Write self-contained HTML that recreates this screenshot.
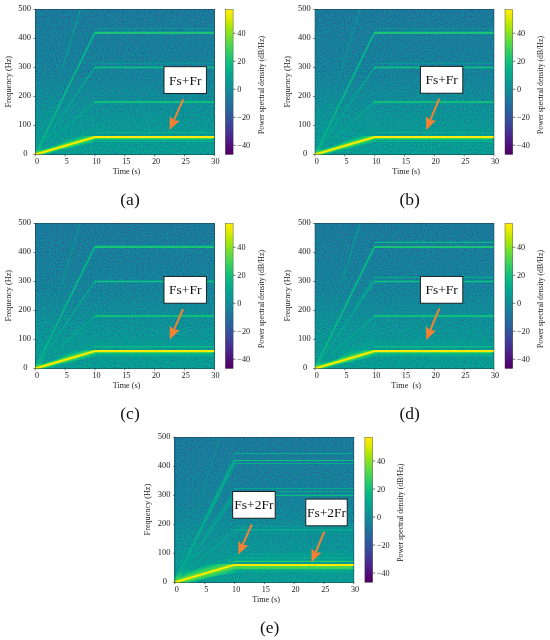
<!DOCTYPE html>
<html><head><meta charset="utf-8"><title>Spectrograms</title>
<style>
html,body{margin:0;padding:0;background:#fff;}
svg{display:block;font-family:"Liberation Serif",serif;}
</style></head><body>
<svg width="550" height="640" viewBox="0 0 550 640">
<defs>
<linearGradient id="cb" x1="0" y1="1" x2="0" y2="0">
<stop offset="0.000" stop-color="rgb(79,0,100)"/>
<stop offset="0.050" stop-color="rgb(80,11,118)"/>
<stop offset="0.100" stop-color="rgb(77,30,135)"/>
<stop offset="0.150" stop-color="rgb(71,48,147)"/>
<stop offset="0.200" stop-color="rgb(62,66,153)"/>
<stop offset="0.250" stop-color="rgb(52,82,156)"/>
<stop offset="0.300" stop-color="rgb(42,97,157)"/>
<stop offset="0.350" stop-color="rgb(33,112,157)"/>
<stop offset="0.400" stop-color="rgb(24,126,155)"/>
<stop offset="0.450" stop-color="rgb(17,141,153)"/>
<stop offset="0.500" stop-color="rgb(9,155,149)"/>
<stop offset="0.550" stop-color="rgb(5,168,144)"/>
<stop offset="0.600" stop-color="rgb(7,181,134)"/>
<stop offset="0.650" stop-color="rgb(21,194,121)"/>
<stop offset="0.700" stop-color="rgb(45,205,102)"/>
<stop offset="0.750" stop-color="rgb(75,214,80)"/>
<stop offset="0.800" stop-color="rgb(108,222,55)"/>
<stop offset="0.850" stop-color="rgb(147,228,24)"/>
<stop offset="0.900" stop-color="rgb(188,232,0)"/>
<stop offset="0.950" stop-color="rgb(230,235,0)"/>
<stop offset="1.000" stop-color="rgb(255,236,0)"/>
</linearGradient>
<linearGradient id="bias" x1="0" y1="0" x2="0" y2="1"><stop offset="0" stop-color="#000000"/><stop offset="0.45" stop-color="#000800"/><stop offset="0.75" stop-color="#001800"/><stop offset="1" stop-color="#002000"/></linearGradient>
<filter id="b1" x="-5%" y="-5%" width="110%" height="110%"><feGaussianBlur stdDeviation="0.9"/></filter>
<filter id="b3" x="-10%" y="-30%" width="120%" height="160%"><feGaussianBlur stdDeviation="5"/></filter>
<filter id="b2" x="-5%" y="-5%" width="110%" height="110%"><feGaussianBlur stdDeviation="2.2"/></filter>
<filter id="va" filterUnits="userSpaceOnUse" x="0" y="0" width="179" height="145" color-interpolation-filters="sRGB">
<feTurbulence type="fractalNoise" baseFrequency="0.85 0.6" numOctaves="1" seed="3" result="t"/>
<feColorMatrix in="t" type="matrix" values="1 0 0 0 0  1 0 0 0 0  1 0 0 0 0  0 0 0 0 1" result="tg"/>
<feComponentTransfer in="tg" result="n"><feFuncR type="table" tableValues="0.217 0.217 0.217 0.217 0.227 0.267 0.307 0.325 0.347 0.367 0.387 0.407 0.425 0.441 0.453 0.462 0.467 0.467 0.467 0.467 0.467"/><feFuncG type="table" tableValues="0.217 0.217 0.217 0.217 0.227 0.267 0.307 0.325 0.347 0.367 0.387 0.407 0.425 0.441 0.453 0.462 0.467 0.467 0.467 0.467 0.467"/><feFuncB type="table" tableValues="0.217 0.217 0.217 0.217 0.227 0.267 0.307 0.325 0.347 0.367 0.387 0.407 0.425 0.441 0.453 0.462 0.467 0.467 0.467 0.467 0.467"/></feComponentTransfer>
<feColorMatrix in="SourceGraphic" type="matrix" values="0 1 0 0 0  0 1 0 0 0  0 1 0 0 0  0 0 0 0 1" result="bias"/>
<feColorMatrix in="SourceGraphic" type="matrix" values="1 0 0 0 0  1 0 0 0 0  1 0 0 0 0  0 0 0 0 1" result="lines0"/>
<feGaussianBlur in="lines0" stdDeviation="0.3" result="lines"/>
<feComposite in="n" in2="bias" operator="arithmetic" k1="0" k2="1" k3="1" k4="0" result="nb"/>
<feBlend in="lines" in2="nb" mode="lighten" result="m"/>
<feComponentTransfer in="m"><feFuncR type="table" tableValues="0.311 0.314 0.313 0.308 0.302 0.290 0.277 0.262 0.243 0.224 0.203 0.184 0.166 0.146 0.129 0.111 0.096 0.081 0.065 0.051 0.036 0.025 0.018 0.019 0.029 0.053 0.084 0.123 0.176 0.228 0.295 0.357 0.422 0.503 0.576 0.663 0.738 0.814 0.900 0.971 1.000"/><feFuncG type="table" tableValues="0.000 0.005 0.044 0.084 0.117 0.156 0.188 0.220 0.257 0.288 0.323 0.352 0.380 0.412 0.439 0.470 0.496 0.521 0.551 0.577 0.607 0.632 0.658 0.687 0.710 0.737 0.759 0.780 0.803 0.821 0.840 0.856 0.870 0.884 0.894 0.903 0.910 0.915 0.920 0.922 0.924"/><feFuncB type="table" tableValues="0.392 0.430 0.465 0.501 0.529 0.556 0.575 0.589 0.601 0.608 0.613 0.615 0.616 0.616 0.614 0.612 0.609 0.605 0.600 0.594 0.586 0.576 0.564 0.546 0.527 0.500 0.473 0.443 0.402 0.363 0.313 0.266 0.215 0.152 0.095 0.027 0.000 0.000 0.000 0.000 0.000"/></feComponentTransfer>
</filter>
<filter id="vb" filterUnits="userSpaceOnUse" x="0" y="0" width="179" height="145" color-interpolation-filters="sRGB">
<feTurbulence type="fractalNoise" baseFrequency="0.85 0.6" numOctaves="1" seed="11" result="t"/>
<feColorMatrix in="t" type="matrix" values="1 0 0 0 0  1 0 0 0 0  1 0 0 0 0  0 0 0 0 1" result="tg"/>
<feComponentTransfer in="tg" result="n"><feFuncR type="table" tableValues="0.217 0.217 0.217 0.217 0.227 0.267 0.307 0.325 0.347 0.367 0.387 0.407 0.425 0.441 0.453 0.462 0.467 0.467 0.467 0.467 0.467"/><feFuncG type="table" tableValues="0.217 0.217 0.217 0.217 0.227 0.267 0.307 0.325 0.347 0.367 0.387 0.407 0.425 0.441 0.453 0.462 0.467 0.467 0.467 0.467 0.467"/><feFuncB type="table" tableValues="0.217 0.217 0.217 0.217 0.227 0.267 0.307 0.325 0.347 0.367 0.387 0.407 0.425 0.441 0.453 0.462 0.467 0.467 0.467 0.467 0.467"/></feComponentTransfer>
<feColorMatrix in="SourceGraphic" type="matrix" values="0 1 0 0 0  0 1 0 0 0  0 1 0 0 0  0 0 0 0 1" result="bias"/>
<feColorMatrix in="SourceGraphic" type="matrix" values="1 0 0 0 0  1 0 0 0 0  1 0 0 0 0  0 0 0 0 1" result="lines0"/>
<feGaussianBlur in="lines0" stdDeviation="0.3" result="lines"/>
<feComposite in="n" in2="bias" operator="arithmetic" k1="0" k2="1" k3="1" k4="0" result="nb"/>
<feBlend in="lines" in2="nb" mode="lighten" result="m"/>
<feComponentTransfer in="m"><feFuncR type="table" tableValues="0.311 0.314 0.313 0.308 0.302 0.290 0.277 0.262 0.243 0.224 0.203 0.184 0.166 0.146 0.129 0.111 0.096 0.081 0.065 0.051 0.036 0.025 0.018 0.019 0.029 0.053 0.084 0.123 0.176 0.228 0.295 0.357 0.422 0.503 0.576 0.663 0.738 0.814 0.900 0.971 1.000"/><feFuncG type="table" tableValues="0.000 0.005 0.044 0.084 0.117 0.156 0.188 0.220 0.257 0.288 0.323 0.352 0.380 0.412 0.439 0.470 0.496 0.521 0.551 0.577 0.607 0.632 0.658 0.687 0.710 0.737 0.759 0.780 0.803 0.821 0.840 0.856 0.870 0.884 0.894 0.903 0.910 0.915 0.920 0.922 0.924"/><feFuncB type="table" tableValues="0.392 0.430 0.465 0.501 0.529 0.556 0.575 0.589 0.601 0.608 0.613 0.615 0.616 0.616 0.614 0.612 0.609 0.605 0.600 0.594 0.586 0.576 0.564 0.546 0.527 0.500 0.473 0.443 0.402 0.363 0.313 0.266 0.215 0.152 0.095 0.027 0.000 0.000 0.000 0.000 0.000"/></feComponentTransfer>
</filter>
<filter id="vc" filterUnits="userSpaceOnUse" x="0" y="0" width="179" height="145" color-interpolation-filters="sRGB">
<feTurbulence type="fractalNoise" baseFrequency="0.85 0.6" numOctaves="1" seed="23" result="t"/>
<feColorMatrix in="t" type="matrix" values="1 0 0 0 0  1 0 0 0 0  1 0 0 0 0  0 0 0 0 1" result="tg"/>
<feComponentTransfer in="tg" result="n"><feFuncR type="table" tableValues="0.217 0.217 0.217 0.217 0.227 0.267 0.307 0.325 0.347 0.367 0.387 0.407 0.425 0.441 0.453 0.462 0.467 0.467 0.467 0.467 0.467"/><feFuncG type="table" tableValues="0.217 0.217 0.217 0.217 0.227 0.267 0.307 0.325 0.347 0.367 0.387 0.407 0.425 0.441 0.453 0.462 0.467 0.467 0.467 0.467 0.467"/><feFuncB type="table" tableValues="0.217 0.217 0.217 0.217 0.227 0.267 0.307 0.325 0.347 0.367 0.387 0.407 0.425 0.441 0.453 0.462 0.467 0.467 0.467 0.467 0.467"/></feComponentTransfer>
<feColorMatrix in="SourceGraphic" type="matrix" values="0 1 0 0 0  0 1 0 0 0  0 1 0 0 0  0 0 0 0 1" result="bias"/>
<feColorMatrix in="SourceGraphic" type="matrix" values="1 0 0 0 0  1 0 0 0 0  1 0 0 0 0  0 0 0 0 1" result="lines0"/>
<feGaussianBlur in="lines0" stdDeviation="0.3" result="lines"/>
<feComposite in="n" in2="bias" operator="arithmetic" k1="0" k2="1" k3="1" k4="0" result="nb"/>
<feBlend in="lines" in2="nb" mode="lighten" result="m"/>
<feComponentTransfer in="m"><feFuncR type="table" tableValues="0.311 0.314 0.313 0.308 0.302 0.290 0.277 0.262 0.243 0.224 0.203 0.184 0.166 0.146 0.129 0.111 0.096 0.081 0.065 0.051 0.036 0.025 0.018 0.019 0.029 0.053 0.084 0.123 0.176 0.228 0.295 0.357 0.422 0.503 0.576 0.663 0.738 0.814 0.900 0.971 1.000"/><feFuncG type="table" tableValues="0.000 0.005 0.044 0.084 0.117 0.156 0.188 0.220 0.257 0.288 0.323 0.352 0.380 0.412 0.439 0.470 0.496 0.521 0.551 0.577 0.607 0.632 0.658 0.687 0.710 0.737 0.759 0.780 0.803 0.821 0.840 0.856 0.870 0.884 0.894 0.903 0.910 0.915 0.920 0.922 0.924"/><feFuncB type="table" tableValues="0.392 0.430 0.465 0.501 0.529 0.556 0.575 0.589 0.601 0.608 0.613 0.615 0.616 0.616 0.614 0.612 0.609 0.605 0.600 0.594 0.586 0.576 0.564 0.546 0.527 0.500 0.473 0.443 0.402 0.363 0.313 0.266 0.215 0.152 0.095 0.027 0.000 0.000 0.000 0.000 0.000"/></feComponentTransfer>
</filter>
<filter id="vd" filterUnits="userSpaceOnUse" x="0" y="0" width="179" height="145" color-interpolation-filters="sRGB">
<feTurbulence type="fractalNoise" baseFrequency="0.85 0.6" numOctaves="1" seed="37" result="t"/>
<feColorMatrix in="t" type="matrix" values="1 0 0 0 0  1 0 0 0 0  1 0 0 0 0  0 0 0 0 1" result="tg"/>
<feComponentTransfer in="tg" result="n"><feFuncR type="table" tableValues="0.217 0.217 0.217 0.217 0.227 0.267 0.307 0.325 0.347 0.367 0.387 0.407 0.425 0.441 0.453 0.462 0.467 0.467 0.467 0.467 0.467"/><feFuncG type="table" tableValues="0.217 0.217 0.217 0.217 0.227 0.267 0.307 0.325 0.347 0.367 0.387 0.407 0.425 0.441 0.453 0.462 0.467 0.467 0.467 0.467 0.467"/><feFuncB type="table" tableValues="0.217 0.217 0.217 0.217 0.227 0.267 0.307 0.325 0.347 0.367 0.387 0.407 0.425 0.441 0.453 0.462 0.467 0.467 0.467 0.467 0.467"/></feComponentTransfer>
<feColorMatrix in="SourceGraphic" type="matrix" values="0 1 0 0 0  0 1 0 0 0  0 1 0 0 0  0 0 0 0 1" result="bias"/>
<feColorMatrix in="SourceGraphic" type="matrix" values="1 0 0 0 0  1 0 0 0 0  1 0 0 0 0  0 0 0 0 1" result="lines0"/>
<feGaussianBlur in="lines0" stdDeviation="0.3" result="lines"/>
<feComposite in="n" in2="bias" operator="arithmetic" k1="0" k2="1" k3="1" k4="0" result="nb"/>
<feBlend in="lines" in2="nb" mode="lighten" result="m"/>
<feComponentTransfer in="m"><feFuncR type="table" tableValues="0.311 0.314 0.313 0.308 0.302 0.290 0.277 0.262 0.243 0.224 0.203 0.184 0.166 0.146 0.129 0.111 0.096 0.081 0.065 0.051 0.036 0.025 0.018 0.019 0.029 0.053 0.084 0.123 0.176 0.228 0.295 0.357 0.422 0.503 0.576 0.663 0.738 0.814 0.900 0.971 1.000"/><feFuncG type="table" tableValues="0.000 0.005 0.044 0.084 0.117 0.156 0.188 0.220 0.257 0.288 0.323 0.352 0.380 0.412 0.439 0.470 0.496 0.521 0.551 0.577 0.607 0.632 0.658 0.687 0.710 0.737 0.759 0.780 0.803 0.821 0.840 0.856 0.870 0.884 0.894 0.903 0.910 0.915 0.920 0.922 0.924"/><feFuncB type="table" tableValues="0.392 0.430 0.465 0.501 0.529 0.556 0.575 0.589 0.601 0.608 0.613 0.615 0.616 0.616 0.614 0.612 0.609 0.605 0.600 0.594 0.586 0.576 0.564 0.546 0.527 0.500 0.473 0.443 0.402 0.363 0.313 0.266 0.215 0.152 0.095 0.027 0.000 0.000 0.000 0.000 0.000"/></feComponentTransfer>
</filter>
<filter id="ve" filterUnits="userSpaceOnUse" x="0" y="0" width="179" height="145" color-interpolation-filters="sRGB">
<feTurbulence type="fractalNoise" baseFrequency="0.85 0.6" numOctaves="1" seed="51" result="t"/>
<feColorMatrix in="t" type="matrix" values="1 0 0 0 0  1 0 0 0 0  1 0 0 0 0  0 0 0 0 1" result="tg"/>
<feComponentTransfer in="tg" result="n"><feFuncR type="table" tableValues="0.217 0.217 0.217 0.217 0.227 0.267 0.307 0.325 0.347 0.367 0.387 0.407 0.425 0.441 0.453 0.462 0.467 0.467 0.467 0.467 0.467"/><feFuncG type="table" tableValues="0.217 0.217 0.217 0.217 0.227 0.267 0.307 0.325 0.347 0.367 0.387 0.407 0.425 0.441 0.453 0.462 0.467 0.467 0.467 0.467 0.467"/><feFuncB type="table" tableValues="0.217 0.217 0.217 0.217 0.227 0.267 0.307 0.325 0.347 0.367 0.387 0.407 0.425 0.441 0.453 0.462 0.467 0.467 0.467 0.467 0.467"/></feComponentTransfer>
<feColorMatrix in="SourceGraphic" type="matrix" values="0 1 0 0 0  0 1 0 0 0  0 1 0 0 0  0 0 0 0 1" result="bias"/>
<feColorMatrix in="SourceGraphic" type="matrix" values="1 0 0 0 0  1 0 0 0 0  1 0 0 0 0  0 0 0 0 1" result="lines0"/>
<feGaussianBlur in="lines0" stdDeviation="0.3" result="lines"/>
<feComposite in="n" in2="bias" operator="arithmetic" k1="0" k2="1" k3="1" k4="0" result="nb"/>
<feBlend in="lines" in2="nb" mode="lighten" result="m"/>
<feComponentTransfer in="m"><feFuncR type="table" tableValues="0.311 0.314 0.313 0.308 0.302 0.290 0.277 0.262 0.243 0.224 0.203 0.184 0.166 0.146 0.129 0.111 0.096 0.081 0.065 0.051 0.036 0.025 0.018 0.019 0.029 0.053 0.084 0.123 0.176 0.228 0.295 0.357 0.422 0.503 0.576 0.663 0.738 0.814 0.900 0.971 1.000"/><feFuncG type="table" tableValues="0.000 0.005 0.044 0.084 0.117 0.156 0.188 0.220 0.257 0.288 0.323 0.352 0.380 0.412 0.439 0.470 0.496 0.521 0.551 0.577 0.607 0.632 0.658 0.687 0.710 0.737 0.759 0.780 0.803 0.821 0.840 0.856 0.870 0.884 0.894 0.903 0.910 0.915 0.920 0.922 0.924"/><feFuncB type="table" tableValues="0.392 0.430 0.465 0.501 0.529 0.556 0.575 0.589 0.601 0.608 0.613 0.615 0.616 0.616 0.614 0.612 0.609 0.605 0.600 0.594 0.586 0.576 0.564 0.546 0.527 0.500 0.473 0.443 0.402 0.363 0.313 0.266 0.215 0.152 0.095 0.027 0.000 0.000 0.000 0.000 0.000"/></feComponentTransfer>
</filter>
</defs>
<rect width="550" height="640" fill="#fff"/>
<g transform="translate(35.3 9.5)" filter="url(#va)">
<rect x="0" y="0" width="179" height="145" fill="url(#bias)"/>
<path d="M23.80 134.56 L59.50 118.90 L179.00 118.90" stroke="#7a0000" stroke-width="16.00" fill="none" stroke-opacity="1.00" stroke-linejoin="round" style="mix-blend-mode:lighten" filter="url(#b3)"/>
<path d="M4.00 132.13 L45.08 0.00" stroke="#640000" stroke-width="3.30" fill="none" stroke-opacity="1.00" stroke-linejoin="round" style="mix-blend-mode:lighten" filter="url(#b1)"/>
<path d="M4.00 132.13 L45.08 0.00" stroke="#7a0000" stroke-width="1.10" fill="none" stroke-opacity="1.00" stroke-linejoin="round" style="mix-blend-mode:lighten"/>
<path d="M26.00 61.36 L45.08 0.00" stroke="#6b0000" stroke-width="3.40" fill="none" stroke-opacity="1.00" stroke-linejoin="round" style="mix-blend-mode:lighten" filter="url(#b1)"/>
<path d="M26.00 61.36 L45.08 0.00" stroke="#820000" stroke-width="1.20" fill="none" stroke-opacity="1.00" stroke-linejoin="round" style="mix-blend-mode:lighten"/>
<path d="M0.00 145.00 L59.50 23.20" stroke="#840000" stroke-width="4.00" fill="none" stroke-opacity="1.00" stroke-linejoin="round" style="mix-blend-mode:lighten" filter="url(#b1)"/>
<path d="M0.00 145.00 L59.50 23.20" stroke="#9a0000" stroke-width="1.80" fill="none" stroke-opacity="1.00" stroke-linejoin="round" style="mix-blend-mode:lighten"/>
<path d="M59.00 23.20 L179.00 23.20" stroke="#930000" stroke-width="5.30" fill="none" stroke-opacity="1.00" stroke-linejoin="round" style="mix-blend-mode:lighten" filter="url(#b1)"/>
<path d="M59.00 23.20 L179.00 23.20" stroke="#a90000" stroke-width="2.70" fill="none" stroke-opacity="1.00" stroke-linejoin="round" style="mix-blend-mode:lighten"/>
<path d="M59.00 18.85 L179.00 18.85" stroke="#660000" stroke-width="4.20" fill="none" stroke-opacity="1.00" stroke-linejoin="round" style="mix-blend-mode:lighten" filter="url(#b1)"/>
<path d="M59.00 18.85 L179.00 18.85" stroke="#7d0000" stroke-width="1.60" fill="none" stroke-opacity="1.00" stroke-linejoin="round" style="mix-blend-mode:lighten"/>
<path d="M59.00 27.55 L179.00 27.55" stroke="#5f0000" stroke-width="3.80" fill="none" stroke-opacity="1.00" stroke-linejoin="round" style="mix-blend-mode:lighten" filter="url(#b1)"/>
<path d="M59.00 27.55 L179.00 27.55" stroke="#750000" stroke-width="1.20" fill="none" stroke-opacity="1.00" stroke-linejoin="round" style="mix-blend-mode:lighten"/>
<path d="M0.00 145.00 L59.50 58.00" stroke="#750000" stroke-width="3.90" fill="none" stroke-opacity="1.00" stroke-linejoin="round" style="mix-blend-mode:lighten" filter="url(#b1)"/>
<path d="M0.00 145.00 L59.50 58.00" stroke="#8b0000" stroke-width="1.70" fill="none" stroke-opacity="1.00" stroke-linejoin="round" style="mix-blend-mode:lighten"/>
<path d="M59.00 58.00 L179.00 58.00" stroke="#900000" stroke-width="5.20" fill="none" stroke-opacity="1.00" stroke-linejoin="round" style="mix-blend-mode:lighten" filter="url(#b1)"/>
<path d="M59.00 58.00 L179.00 58.00" stroke="#a70000" stroke-width="2.60" fill="none" stroke-opacity="1.00" stroke-linejoin="round" style="mix-blend-mode:lighten"/>
<path d="M59.00 53.65 L179.00 53.65" stroke="#660000" stroke-width="4.20" fill="none" stroke-opacity="1.00" stroke-linejoin="round" style="mix-blend-mode:lighten" filter="url(#b1)"/>
<path d="M59.00 53.65 L179.00 53.65" stroke="#7d0000" stroke-width="1.60" fill="none" stroke-opacity="1.00" stroke-linejoin="round" style="mix-blend-mode:lighten"/>
<path d="M18.00 129.21 L59.50 92.80" stroke="#730000" stroke-width="4.20" fill="none" stroke-opacity="1.00" stroke-linejoin="round" style="mix-blend-mode:lighten" filter="url(#b1)"/>
<path d="M18.00 129.21 L59.50 92.80" stroke="#890000" stroke-width="2.00" fill="none" stroke-opacity="1.00" stroke-linejoin="round" style="mix-blend-mode:lighten"/>
<path d="M59.00 92.80 L179.00 92.80" stroke="#8b0000" stroke-width="5.40" fill="none" stroke-opacity="1.00" stroke-linejoin="round" style="mix-blend-mode:lighten" filter="url(#b1)"/>
<path d="M59.00 92.80 L179.00 92.80" stroke="#a20000" stroke-width="2.80" fill="none" stroke-opacity="1.00" stroke-linejoin="round" style="mix-blend-mode:lighten"/>
<path d="M30.00 123.07 L59.50 101.50" stroke="#690000" stroke-width="3.60" fill="none" stroke-opacity="1.00" stroke-linejoin="round" style="mix-blend-mode:lighten" filter="url(#b1)"/>
<path d="M30.00 123.07 L59.50 101.50" stroke="#7f0000" stroke-width="1.40" fill="none" stroke-opacity="1.00" stroke-linejoin="round" style="mix-blend-mode:lighten"/>
<path d="M59.00 88.45 L179.00 88.45" stroke="#620000" stroke-width="3.60" fill="none" stroke-opacity="1.00" stroke-linejoin="round" style="mix-blend-mode:lighten" filter="url(#b1)"/>
<path d="M59.00 88.45 L179.00 88.45" stroke="#780000" stroke-width="1.00" fill="none" stroke-opacity="1.00" stroke-linejoin="round" style="mix-blend-mode:lighten"/>
<path d="M28.00 134.76 L59.50 123.25" stroke="#730000" stroke-width="3.40" fill="none" stroke-opacity="1.00" stroke-linejoin="round" style="mix-blend-mode:lighten" filter="url(#b1)"/>
<path d="M28.00 134.76 L59.50 123.25" stroke="#890000" stroke-width="1.20" fill="none" stroke-opacity="1.00" stroke-linejoin="round" style="mix-blend-mode:lighten"/>
<path d="M59.00 123.25 L179.00 123.25" stroke="#820000" stroke-width="4.10" fill="none" stroke-opacity="1.00" stroke-linejoin="round" style="mix-blend-mode:lighten" filter="url(#b1)"/>
<path d="M59.00 123.25 L179.00 123.25" stroke="#980000" stroke-width="1.50" fill="none" stroke-opacity="1.00" stroke-linejoin="round" style="mix-blend-mode:lighten"/>
<path d="M28.00 138.86 L59.50 131.95" stroke="#6e0000" stroke-width="3.40" fill="none" stroke-opacity="1.00" stroke-linejoin="round" style="mix-blend-mode:lighten" filter="url(#b1)"/>
<path d="M28.00 138.86 L59.50 131.95" stroke="#840000" stroke-width="1.20" fill="none" stroke-opacity="1.00" stroke-linejoin="round" style="mix-blend-mode:lighten"/>
<path d="M59.00 131.95 L179.00 131.95" stroke="#750000" stroke-width="3.90" fill="none" stroke-opacity="1.00" stroke-linejoin="round" style="mix-blend-mode:lighten" filter="url(#b1)"/>
<path d="M59.00 131.95 L179.00 131.95" stroke="#8b0000" stroke-width="1.30" fill="none" stroke-opacity="1.00" stroke-linejoin="round" style="mix-blend-mode:lighten"/>
<path d="M30.00 131.84 L59.50 118.90" stroke="#690000" stroke-width="3.40" fill="none" stroke-opacity="1.00" stroke-linejoin="round" style="mix-blend-mode:lighten" filter="url(#b1)"/>
<path d="M30.00 131.84 L59.50 118.90" stroke="#7f0000" stroke-width="1.20" fill="none" stroke-opacity="1.00" stroke-linejoin="round" style="mix-blend-mode:lighten"/>
<path d="M59.00 118.90 L179.00 118.90" stroke="#640000" stroke-width="3.80" fill="none" stroke-opacity="1.00" stroke-linejoin="round" style="mix-blend-mode:lighten" filter="url(#b1)"/>
<path d="M59.00 118.90 L179.00 118.90" stroke="#7a0000" stroke-width="1.20" fill="none" stroke-opacity="1.00" stroke-linejoin="round" style="mix-blend-mode:lighten"/>
<path d="M0.00 145.00 L59.50 127.60 L179.00 127.60" stroke="#ab0000" stroke-width="8.50" fill="none" stroke-opacity="1.00" stroke-linejoin="round" style="mix-blend-mode:lighten" filter="url(#b2)"/>
<path d="M0.00 145.00 L59.50 127.60 L179.00 127.60" stroke="#cc0000" stroke-width="4.00" fill="none" stroke-opacity="1.00" stroke-linejoin="round" style="mix-blend-mode:lighten" filter="url(#b1)"/>
<path d="M0.00 145.00 L59.50 127.60 L179.00 127.60" stroke="#ff0000" stroke-width="2.00" fill="none" stroke-opacity="1.00" stroke-linejoin="round" style="mix-blend-mode:lighten"/>
</g>
<rect x="35.3" y="9.5" width="179" height="145" fill="none" stroke="#1a3a4a" stroke-width="0.5"/>
<line x1="33.5" y1="154.50" x2="35.3" y2="154.50" stroke="#222" stroke-width="0.6"/>
<text x="27.5" y="155.90" font-size="8.5" text-anchor="end" fill="#222">0</text>
<line x1="33.5" y1="125.50" x2="35.3" y2="125.50" stroke="#222" stroke-width="0.6"/>
<text x="31.0" y="126.90" font-size="8.5" text-anchor="end" fill="#222">100</text>
<line x1="33.5" y1="96.50" x2="35.3" y2="96.50" stroke="#222" stroke-width="0.6"/>
<text x="31.0" y="97.90" font-size="8.5" text-anchor="end" fill="#222">200</text>
<line x1="33.5" y1="67.50" x2="35.3" y2="67.50" stroke="#222" stroke-width="0.6"/>
<text x="31.0" y="68.90" font-size="8.5" text-anchor="end" fill="#222">300</text>
<line x1="33.5" y1="38.50" x2="35.3" y2="38.50" stroke="#222" stroke-width="0.6"/>
<text x="31.0" y="39.90" font-size="8.5" text-anchor="end" fill="#222">400</text>
<line x1="33.5" y1="9.50" x2="35.3" y2="9.50" stroke="#222" stroke-width="0.6"/>
<text x="31.0" y="10.90" font-size="8.5" text-anchor="end" fill="#222">500</text>
<line x1="35.30" y1="154.5" x2="35.30" y2="156.3" stroke="#222" stroke-width="0.6"/>
<text x="37.10" y="164.4" font-size="8.2" text-anchor="middle" fill="#222">0</text>
<line x1="65.13" y1="154.5" x2="65.13" y2="156.3" stroke="#222" stroke-width="0.6"/>
<text x="66.82" y="164.4" font-size="8.2" text-anchor="middle" fill="#222">5</text>
<line x1="94.96" y1="154.5" x2="94.96" y2="156.3" stroke="#222" stroke-width="0.6"/>
<text x="96.54" y="164.4" font-size="8.2" text-anchor="middle" fill="#222">10</text>
<line x1="124.79" y1="154.5" x2="124.79" y2="156.3" stroke="#222" stroke-width="0.6"/>
<text x="126.26" y="164.4" font-size="8.2" text-anchor="middle" fill="#222">15</text>
<line x1="154.62" y1="154.5" x2="154.62" y2="156.3" stroke="#222" stroke-width="0.6"/>
<text x="155.98" y="164.4" font-size="8.2" text-anchor="middle" fill="#222">20</text>
<line x1="184.45" y1="154.5" x2="184.45" y2="156.3" stroke="#222" stroke-width="0.6"/>
<text x="185.70" y="164.4" font-size="8.2" text-anchor="middle" fill="#222">25</text>
<line x1="214.28" y1="154.5" x2="214.28" y2="156.3" stroke="#222" stroke-width="0.6"/>
<text x="215.42" y="164.4" font-size="8.2" text-anchor="middle" fill="#222">30</text>
<text x="126.5" y="174.1" font-size="8.2" text-anchor="middle" fill="#222" xml:space="preserve">Time (s)</text>
<text transform="translate(10.5 81.8) rotate(-90)" font-size="8.2" text-anchor="middle" fill="#222">Frequency (Hz)</text>
<rect x="225.3" y="9.5" width="7.8" height="145.0" fill="url(#cb)" stroke="#333" stroke-width="0.4"/>
<line x1="233.1" y1="33.26" x2="235.6" y2="33.26" stroke="#222" stroke-width="0.6"/>
<text x="237.3" y="35.96" font-size="8.2" fill="#222">40</text>
<line x1="233.1" y1="61.26" x2="235.6" y2="61.26" stroke="#222" stroke-width="0.6"/>
<text x="237.3" y="63.96" font-size="8.2" fill="#222">20</text>
<line x1="233.1" y1="89.26" x2="235.6" y2="89.26" stroke="#222" stroke-width="0.6"/>
<text x="237.3" y="91.96" font-size="8.2" fill="#222">0</text>
<line x1="233.1" y1="117.26" x2="235.6" y2="117.26" stroke="#222" stroke-width="0.6"/>
<text x="237.3" y="119.96" font-size="8.2" fill="#222">−20</text>
<line x1="233.1" y1="145.26" x2="235.6" y2="145.26" stroke="#222" stroke-width="0.6"/>
<text x="237.3" y="147.96" font-size="8.2" fill="#222">−40</text>
<text transform="translate(263.6 85.0) rotate(-90)" font-size="7.8" text-anchor="middle" fill="#222">Power spectral density (dB/Hz)</text>
<text x="130.0" y="205.2" font-size="17.5" text-anchor="middle" fill="#111">(a)</text>
<rect x="164.0" y="66.7" width="42.4" height="26.8" fill="#fff" stroke="#111" stroke-width="0.9"/><text x="185.2" y="84.6" font-size="13.5" text-anchor="middle" fill="#111">Fs+Fr</text>
<line x1="183.2" y1="99.3" x2="173.9" y2="120.3" stroke="#f58233" stroke-width="2"/><polygon points="169.6,130.0 169.8,116.3 173.9,120.3 179.6,120.7" fill="#f58233"/>
<g transform="translate(315 9.5)" filter="url(#vb)">
<rect x="0" y="0" width="179" height="145" fill="url(#bias)"/>
<path d="M23.80 134.56 L59.50 118.90 L179.00 118.90" stroke="#7a0000" stroke-width="16.00" fill="none" stroke-opacity="1.00" stroke-linejoin="round" style="mix-blend-mode:lighten" filter="url(#b3)"/>
<path d="M4.00 132.13 L45.08 0.00" stroke="#5f0000" stroke-width="3.30" fill="none" stroke-opacity="1.00" stroke-linejoin="round" style="mix-blend-mode:lighten" filter="url(#b1)"/>
<path d="M4.00 132.13 L45.08 0.00" stroke="#750000" stroke-width="1.10" fill="none" stroke-opacity="1.00" stroke-linejoin="round" style="mix-blend-mode:lighten"/>
<path d="M26.00 61.36 L45.08 0.00" stroke="#660000" stroke-width="3.40" fill="none" stroke-opacity="1.00" stroke-linejoin="round" style="mix-blend-mode:lighten" filter="url(#b1)"/>
<path d="M26.00 61.36 L45.08 0.00" stroke="#7d0000" stroke-width="1.20" fill="none" stroke-opacity="1.00" stroke-linejoin="round" style="mix-blend-mode:lighten"/>
<path d="M0.00 145.00 L59.50 23.20" stroke="#840000" stroke-width="4.00" fill="none" stroke-opacity="1.00" stroke-linejoin="round" style="mix-blend-mode:lighten" filter="url(#b1)"/>
<path d="M0.00 145.00 L59.50 23.20" stroke="#9a0000" stroke-width="1.80" fill="none" stroke-opacity="1.00" stroke-linejoin="round" style="mix-blend-mode:lighten"/>
<path d="M59.00 23.20 L179.00 23.20" stroke="#930000" stroke-width="5.30" fill="none" stroke-opacity="1.00" stroke-linejoin="round" style="mix-blend-mode:lighten" filter="url(#b1)"/>
<path d="M59.00 23.20 L179.00 23.20" stroke="#a90000" stroke-width="2.70" fill="none" stroke-opacity="1.00" stroke-linejoin="round" style="mix-blend-mode:lighten"/>
<path d="M59.00 27.55 L179.00 27.55" stroke="#6b0000" stroke-width="4.20" fill="none" stroke-opacity="1.00" stroke-linejoin="round" style="mix-blend-mode:lighten" filter="url(#b1)"/>
<path d="M59.00 27.55 L179.00 27.55" stroke="#820000" stroke-width="1.60" fill="none" stroke-opacity="1.00" stroke-linejoin="round" style="mix-blend-mode:lighten"/>
<path d="M59.00 18.85 L179.00 18.85" stroke="#5f0000" stroke-width="3.80" fill="none" stroke-opacity="1.00" stroke-linejoin="round" style="mix-blend-mode:lighten" filter="url(#b1)"/>
<path d="M59.00 18.85 L179.00 18.85" stroke="#750000" stroke-width="1.20" fill="none" stroke-opacity="1.00" stroke-linejoin="round" style="mix-blend-mode:lighten"/>
<path d="M0.00 145.00 L59.50 58.00" stroke="#750000" stroke-width="3.90" fill="none" stroke-opacity="1.00" stroke-linejoin="round" style="mix-blend-mode:lighten" filter="url(#b1)"/>
<path d="M0.00 145.00 L59.50 58.00" stroke="#8b0000" stroke-width="1.70" fill="none" stroke-opacity="1.00" stroke-linejoin="round" style="mix-blend-mode:lighten"/>
<path d="M59.00 58.00 L179.00 58.00" stroke="#900000" stroke-width="5.20" fill="none" stroke-opacity="1.00" stroke-linejoin="round" style="mix-blend-mode:lighten" filter="url(#b1)"/>
<path d="M59.00 58.00 L179.00 58.00" stroke="#a70000" stroke-width="2.60" fill="none" stroke-opacity="1.00" stroke-linejoin="round" style="mix-blend-mode:lighten"/>
<path d="M59.00 53.65 L179.00 53.65" stroke="#690000" stroke-width="4.20" fill="none" stroke-opacity="1.00" stroke-linejoin="round" style="mix-blend-mode:lighten" filter="url(#b1)"/>
<path d="M59.00 53.65 L179.00 53.65" stroke="#7f0000" stroke-width="1.60" fill="none" stroke-opacity="1.00" stroke-linejoin="round" style="mix-blend-mode:lighten"/>
<path d="M18.00 129.21 L59.50 92.80" stroke="#730000" stroke-width="4.20" fill="none" stroke-opacity="1.00" stroke-linejoin="round" style="mix-blend-mode:lighten" filter="url(#b1)"/>
<path d="M18.00 129.21 L59.50 92.80" stroke="#890000" stroke-width="2.00" fill="none" stroke-opacity="1.00" stroke-linejoin="round" style="mix-blend-mode:lighten"/>
<path d="M59.00 92.80 L179.00 92.80" stroke="#8b0000" stroke-width="5.40" fill="none" stroke-opacity="1.00" stroke-linejoin="round" style="mix-blend-mode:lighten" filter="url(#b1)"/>
<path d="M59.00 92.80 L179.00 92.80" stroke="#a20000" stroke-width="2.80" fill="none" stroke-opacity="1.00" stroke-linejoin="round" style="mix-blend-mode:lighten"/>
<path d="M32.00 121.61 L59.50 101.50" stroke="#6b0000" stroke-width="3.60" fill="none" stroke-opacity="1.00" stroke-linejoin="round" style="mix-blend-mode:lighten" filter="url(#b1)"/>
<path d="M32.00 121.61 L59.50 101.50" stroke="#820000" stroke-width="1.40" fill="none" stroke-opacity="1.00" stroke-linejoin="round" style="mix-blend-mode:lighten"/>
<path d="M28.00 134.76 L59.50 123.25" stroke="#730000" stroke-width="3.40" fill="none" stroke-opacity="1.00" stroke-linejoin="round" style="mix-blend-mode:lighten" filter="url(#b1)"/>
<path d="M28.00 134.76 L59.50 123.25" stroke="#890000" stroke-width="1.20" fill="none" stroke-opacity="1.00" stroke-linejoin="round" style="mix-blend-mode:lighten"/>
<path d="M59.00 123.25 L179.00 123.25" stroke="#7f0000" stroke-width="4.10" fill="none" stroke-opacity="1.00" stroke-linejoin="round" style="mix-blend-mode:lighten" filter="url(#b1)"/>
<path d="M59.00 123.25 L179.00 123.25" stroke="#950000" stroke-width="1.50" fill="none" stroke-opacity="1.00" stroke-linejoin="round" style="mix-blend-mode:lighten"/>
<path d="M28.00 138.86 L59.50 131.95" stroke="#6e0000" stroke-width="3.40" fill="none" stroke-opacity="1.00" stroke-linejoin="round" style="mix-blend-mode:lighten" filter="url(#b1)"/>
<path d="M28.00 138.86 L59.50 131.95" stroke="#840000" stroke-width="1.20" fill="none" stroke-opacity="1.00" stroke-linejoin="round" style="mix-blend-mode:lighten"/>
<path d="M59.00 131.95 L179.00 131.95" stroke="#750000" stroke-width="3.90" fill="none" stroke-opacity="1.00" stroke-linejoin="round" style="mix-blend-mode:lighten" filter="url(#b1)"/>
<path d="M59.00 131.95 L179.00 131.95" stroke="#8b0000" stroke-width="1.30" fill="none" stroke-opacity="1.00" stroke-linejoin="round" style="mix-blend-mode:lighten"/>
<path d="M30.00 131.84 L59.50 118.90" stroke="#690000" stroke-width="3.40" fill="none" stroke-opacity="1.00" stroke-linejoin="round" style="mix-blend-mode:lighten" filter="url(#b1)"/>
<path d="M30.00 131.84 L59.50 118.90" stroke="#7f0000" stroke-width="1.20" fill="none" stroke-opacity="1.00" stroke-linejoin="round" style="mix-blend-mode:lighten"/>
<path d="M59.00 118.90 L179.00 118.90" stroke="#640000" stroke-width="3.80" fill="none" stroke-opacity="1.00" stroke-linejoin="round" style="mix-blend-mode:lighten" filter="url(#b1)"/>
<path d="M59.00 118.90 L179.00 118.90" stroke="#7a0000" stroke-width="1.20" fill="none" stroke-opacity="1.00" stroke-linejoin="round" style="mix-blend-mode:lighten"/>
<path d="M0.00 145.00 L59.50 127.60 L179.00 127.60" stroke="#ab0000" stroke-width="8.50" fill="none" stroke-opacity="1.00" stroke-linejoin="round" style="mix-blend-mode:lighten" filter="url(#b2)"/>
<path d="M0.00 145.00 L59.50 127.60 L179.00 127.60" stroke="#cc0000" stroke-width="4.00" fill="none" stroke-opacity="1.00" stroke-linejoin="round" style="mix-blend-mode:lighten" filter="url(#b1)"/>
<path d="M0.00 145.00 L59.50 127.60 L179.00 127.60" stroke="#ff0000" stroke-width="2.00" fill="none" stroke-opacity="1.00" stroke-linejoin="round" style="mix-blend-mode:lighten"/>
</g>
<rect x="315" y="9.5" width="179" height="145" fill="none" stroke="#1a3a4a" stroke-width="0.5"/>
<line x1="313.2" y1="154.50" x2="315.0" y2="154.50" stroke="#222" stroke-width="0.6"/>
<text x="307.2" y="155.90" font-size="8.5" text-anchor="end" fill="#222">0</text>
<line x1="313.2" y1="125.50" x2="315.0" y2="125.50" stroke="#222" stroke-width="0.6"/>
<text x="310.7" y="126.90" font-size="8.5" text-anchor="end" fill="#222">100</text>
<line x1="313.2" y1="96.50" x2="315.0" y2="96.50" stroke="#222" stroke-width="0.6"/>
<text x="310.7" y="97.90" font-size="8.5" text-anchor="end" fill="#222">200</text>
<line x1="313.2" y1="67.50" x2="315.0" y2="67.50" stroke="#222" stroke-width="0.6"/>
<text x="310.7" y="68.90" font-size="8.5" text-anchor="end" fill="#222">300</text>
<line x1="313.2" y1="38.50" x2="315.0" y2="38.50" stroke="#222" stroke-width="0.6"/>
<text x="310.7" y="39.90" font-size="8.5" text-anchor="end" fill="#222">400</text>
<line x1="313.2" y1="9.50" x2="315.0" y2="9.50" stroke="#222" stroke-width="0.6"/>
<text x="310.7" y="10.90" font-size="8.5" text-anchor="end" fill="#222">500</text>
<line x1="315.00" y1="154.5" x2="315.00" y2="156.3" stroke="#222" stroke-width="0.6"/>
<text x="316.80" y="164.4" font-size="8.2" text-anchor="middle" fill="#222">0</text>
<line x1="344.83" y1="154.5" x2="344.83" y2="156.3" stroke="#222" stroke-width="0.6"/>
<text x="346.52" y="164.4" font-size="8.2" text-anchor="middle" fill="#222">5</text>
<line x1="374.66" y1="154.5" x2="374.66" y2="156.3" stroke="#222" stroke-width="0.6"/>
<text x="376.24" y="164.4" font-size="8.2" text-anchor="middle" fill="#222">10</text>
<line x1="404.49" y1="154.5" x2="404.49" y2="156.3" stroke="#222" stroke-width="0.6"/>
<text x="405.96" y="164.4" font-size="8.2" text-anchor="middle" fill="#222">15</text>
<line x1="434.32" y1="154.5" x2="434.32" y2="156.3" stroke="#222" stroke-width="0.6"/>
<text x="435.68" y="164.4" font-size="8.2" text-anchor="middle" fill="#222">20</text>
<line x1="464.15" y1="154.5" x2="464.15" y2="156.3" stroke="#222" stroke-width="0.6"/>
<text x="465.40" y="164.4" font-size="8.2" text-anchor="middle" fill="#222">25</text>
<line x1="493.98" y1="154.5" x2="493.98" y2="156.3" stroke="#222" stroke-width="0.6"/>
<text x="495.12" y="164.4" font-size="8.2" text-anchor="middle" fill="#222">30</text>
<text x="406.2" y="174.1" font-size="8.2" text-anchor="middle" fill="#222" xml:space="preserve">Time (s)</text>
<text transform="translate(290.2 81.8) rotate(-90)" font-size="8.2" text-anchor="middle" fill="#222">Frequency (Hz)</text>
<rect x="505.0" y="9.5" width="7.8" height="145.0" fill="url(#cb)" stroke="#333" stroke-width="0.4"/>
<line x1="512.8" y1="33.26" x2="515.3" y2="33.26" stroke="#222" stroke-width="0.6"/>
<text x="517.0" y="35.96" font-size="8.2" fill="#222">40</text>
<line x1="512.8" y1="61.26" x2="515.3" y2="61.26" stroke="#222" stroke-width="0.6"/>
<text x="517.0" y="63.96" font-size="8.2" fill="#222">20</text>
<line x1="512.8" y1="89.26" x2="515.3" y2="89.26" stroke="#222" stroke-width="0.6"/>
<text x="517.0" y="91.96" font-size="8.2" fill="#222">0</text>
<line x1="512.8" y1="117.26" x2="515.3" y2="117.26" stroke="#222" stroke-width="0.6"/>
<text x="517.0" y="119.96" font-size="8.2" fill="#222">−20</text>
<line x1="512.8" y1="145.26" x2="515.3" y2="145.26" stroke="#222" stroke-width="0.6"/>
<text x="517.0" y="147.96" font-size="8.2" fill="#222">−40</text>
<text transform="translate(543.3 85.0) rotate(-90)" font-size="7.8" text-anchor="middle" fill="#222">Power spectral density (dB/Hz)</text>
<text x="409.7" y="205.2" font-size="17.5" text-anchor="middle" fill="#111">(b)</text>
<rect x="420.4" y="66.4" width="42.4" height="26.8" fill="#fff" stroke="#111" stroke-width="0.9"/><text x="441.6" y="84.3" font-size="13.5" text-anchor="middle" fill="#111">Fs+Fr</text>
<line x1="439.3" y1="98.7" x2="430.3" y2="120.2" stroke="#f58233" stroke-width="2"/><polygon points="426.2,130.0 426.1,116.3 430.3,120.2 436.0,120.5" fill="#f58233"/>
<g transform="translate(35.3 223.5)" filter="url(#vc)">
<rect x="0" y="0" width="179" height="145" fill="url(#bias)"/>
<path d="M23.80 134.56 L59.50 118.90 L179.00 118.90" stroke="#7f0000" stroke-width="18.00" fill="none" stroke-opacity="1.00" stroke-linejoin="round" style="mix-blend-mode:lighten" filter="url(#b3)"/>
<path d="M4.00 132.13 L45.08 0.00" stroke="#5f0000" stroke-width="3.30" fill="none" stroke-opacity="1.00" stroke-linejoin="round" style="mix-blend-mode:lighten" filter="url(#b1)"/>
<path d="M4.00 132.13 L45.08 0.00" stroke="#750000" stroke-width="1.10" fill="none" stroke-opacity="1.00" stroke-linejoin="round" style="mix-blend-mode:lighten"/>
<path d="M26.00 61.36 L45.08 0.00" stroke="#660000" stroke-width="3.40" fill="none" stroke-opacity="1.00" stroke-linejoin="round" style="mix-blend-mode:lighten" filter="url(#b1)"/>
<path d="M26.00 61.36 L45.08 0.00" stroke="#7d0000" stroke-width="1.20" fill="none" stroke-opacity="1.00" stroke-linejoin="round" style="mix-blend-mode:lighten"/>
<path d="M0.00 145.00 L59.50 23.20" stroke="#840000" stroke-width="4.00" fill="none" stroke-opacity="1.00" stroke-linejoin="round" style="mix-blend-mode:lighten" filter="url(#b1)"/>
<path d="M0.00 145.00 L59.50 23.20" stroke="#9a0000" stroke-width="1.80" fill="none" stroke-opacity="1.00" stroke-linejoin="round" style="mix-blend-mode:lighten"/>
<path d="M59.00 23.20 L179.00 23.20" stroke="#930000" stroke-width="5.30" fill="none" stroke-opacity="1.00" stroke-linejoin="round" style="mix-blend-mode:lighten" filter="url(#b1)"/>
<path d="M59.00 23.20 L179.00 23.20" stroke="#a90000" stroke-width="2.70" fill="none" stroke-opacity="1.00" stroke-linejoin="round" style="mix-blend-mode:lighten"/>
<path d="M59.00 27.55 L179.00 27.55" stroke="#6e0000" stroke-width="4.20" fill="none" stroke-opacity="1.00" stroke-linejoin="round" style="mix-blend-mode:lighten" filter="url(#b1)"/>
<path d="M59.00 27.55 L179.00 27.55" stroke="#840000" stroke-width="1.60" fill="none" stroke-opacity="1.00" stroke-linejoin="round" style="mix-blend-mode:lighten"/>
<path d="M0.00 145.00 L59.50 58.00" stroke="#750000" stroke-width="3.90" fill="none" stroke-opacity="1.00" stroke-linejoin="round" style="mix-blend-mode:lighten" filter="url(#b1)"/>
<path d="M0.00 145.00 L59.50 58.00" stroke="#8b0000" stroke-width="1.70" fill="none" stroke-opacity="1.00" stroke-linejoin="round" style="mix-blend-mode:lighten"/>
<path d="M59.00 58.00 L179.00 58.00" stroke="#900000" stroke-width="5.20" fill="none" stroke-opacity="1.00" stroke-linejoin="round" style="mix-blend-mode:lighten" filter="url(#b1)"/>
<path d="M59.00 58.00 L179.00 58.00" stroke="#a70000" stroke-width="2.60" fill="none" stroke-opacity="1.00" stroke-linejoin="round" style="mix-blend-mode:lighten"/>
<path d="M59.00 54.52 L179.00 54.52" stroke="#6b0000" stroke-width="4.20" fill="none" stroke-opacity="1.00" stroke-linejoin="round" style="mix-blend-mode:lighten" filter="url(#b1)"/>
<path d="M59.00 54.52 L179.00 54.52" stroke="#820000" stroke-width="1.60" fill="none" stroke-opacity="1.00" stroke-linejoin="round" style="mix-blend-mode:lighten"/>
<path d="M18.00 129.21 L59.50 92.80" stroke="#730000" stroke-width="4.20" fill="none" stroke-opacity="1.00" stroke-linejoin="round" style="mix-blend-mode:lighten" filter="url(#b1)"/>
<path d="M18.00 129.21 L59.50 92.80" stroke="#890000" stroke-width="2.00" fill="none" stroke-opacity="1.00" stroke-linejoin="round" style="mix-blend-mode:lighten"/>
<path d="M59.00 92.80 L179.00 92.80" stroke="#8b0000" stroke-width="5.40" fill="none" stroke-opacity="1.00" stroke-linejoin="round" style="mix-blend-mode:lighten" filter="url(#b1)"/>
<path d="M59.00 92.80 L179.00 92.80" stroke="#a20000" stroke-width="2.80" fill="none" stroke-opacity="1.00" stroke-linejoin="round" style="mix-blend-mode:lighten"/>
<path d="M36.00 118.68 L59.50 101.50" stroke="#6e0000" stroke-width="3.70" fill="none" stroke-opacity="1.00" stroke-linejoin="round" style="mix-blend-mode:lighten" filter="url(#b1)"/>
<path d="M36.00 118.68 L59.50 101.50" stroke="#840000" stroke-width="1.50" fill="none" stroke-opacity="1.00" stroke-linejoin="round" style="mix-blend-mode:lighten"/>
<path d="M28.00 134.76 L59.50 123.25" stroke="#750000" stroke-width="3.40" fill="none" stroke-opacity="1.00" stroke-linejoin="round" style="mix-blend-mode:lighten" filter="url(#b1)"/>
<path d="M28.00 134.76 L59.50 123.25" stroke="#8b0000" stroke-width="1.20" fill="none" stroke-opacity="1.00" stroke-linejoin="round" style="mix-blend-mode:lighten"/>
<path d="M59.00 123.25 L179.00 123.25" stroke="#870000" stroke-width="4.40" fill="none" stroke-opacity="1.00" stroke-linejoin="round" style="mix-blend-mode:lighten" filter="url(#b1)"/>
<path d="M59.00 123.25 L179.00 123.25" stroke="#9d0000" stroke-width="1.80" fill="none" stroke-opacity="1.00" stroke-linejoin="round" style="mix-blend-mode:lighten"/>
<path d="M28.00 138.86 L59.50 131.95" stroke="#6e0000" stroke-width="3.40" fill="none" stroke-opacity="1.00" stroke-linejoin="round" style="mix-blend-mode:lighten" filter="url(#b1)"/>
<path d="M28.00 138.86 L59.50 131.95" stroke="#840000" stroke-width="1.20" fill="none" stroke-opacity="1.00" stroke-linejoin="round" style="mix-blend-mode:lighten"/>
<path d="M59.00 131.95 L179.00 131.95" stroke="#750000" stroke-width="3.90" fill="none" stroke-opacity="1.00" stroke-linejoin="round" style="mix-blend-mode:lighten" filter="url(#b1)"/>
<path d="M59.00 131.95 L179.00 131.95" stroke="#8b0000" stroke-width="1.30" fill="none" stroke-opacity="1.00" stroke-linejoin="round" style="mix-blend-mode:lighten"/>
<path d="M30.00 131.84 L59.50 118.90" stroke="#690000" stroke-width="3.40" fill="none" stroke-opacity="1.00" stroke-linejoin="round" style="mix-blend-mode:lighten" filter="url(#b1)"/>
<path d="M30.00 131.84 L59.50 118.90" stroke="#7f0000" stroke-width="1.20" fill="none" stroke-opacity="1.00" stroke-linejoin="round" style="mix-blend-mode:lighten"/>
<path d="M59.00 118.90 L179.00 118.90" stroke="#660000" stroke-width="3.90" fill="none" stroke-opacity="1.00" stroke-linejoin="round" style="mix-blend-mode:lighten" filter="url(#b1)"/>
<path d="M59.00 118.90 L179.00 118.90" stroke="#7d0000" stroke-width="1.30" fill="none" stroke-opacity="1.00" stroke-linejoin="round" style="mix-blend-mode:lighten"/>
<path d="M0.00 145.00 L59.50 127.60 L179.00 127.60" stroke="#ab0000" stroke-width="8.50" fill="none" stroke-opacity="1.00" stroke-linejoin="round" style="mix-blend-mode:lighten" filter="url(#b2)"/>
<path d="M0.00 145.00 L59.50 127.60 L179.00 127.60" stroke="#cc0000" stroke-width="4.00" fill="none" stroke-opacity="1.00" stroke-linejoin="round" style="mix-blend-mode:lighten" filter="url(#b1)"/>
<path d="M0.00 145.00 L59.50 127.60 L179.00 127.60" stroke="#ff0000" stroke-width="2.00" fill="none" stroke-opacity="1.00" stroke-linejoin="round" style="mix-blend-mode:lighten"/>
</g>
<rect x="35.3" y="223.5" width="179" height="145" fill="none" stroke="#1a3a4a" stroke-width="0.5"/>
<line x1="33.5" y1="368.50" x2="35.3" y2="368.50" stroke="#222" stroke-width="0.6"/>
<text x="27.5" y="369.90" font-size="8.5" text-anchor="end" fill="#222">0</text>
<line x1="33.5" y1="339.50" x2="35.3" y2="339.50" stroke="#222" stroke-width="0.6"/>
<text x="31.0" y="340.90" font-size="8.5" text-anchor="end" fill="#222">100</text>
<line x1="33.5" y1="310.50" x2="35.3" y2="310.50" stroke="#222" stroke-width="0.6"/>
<text x="31.0" y="311.90" font-size="8.5" text-anchor="end" fill="#222">200</text>
<line x1="33.5" y1="281.50" x2="35.3" y2="281.50" stroke="#222" stroke-width="0.6"/>
<text x="31.0" y="282.90" font-size="8.5" text-anchor="end" fill="#222">300</text>
<line x1="33.5" y1="252.50" x2="35.3" y2="252.50" stroke="#222" stroke-width="0.6"/>
<text x="31.0" y="253.90" font-size="8.5" text-anchor="end" fill="#222">400</text>
<line x1="33.5" y1="223.50" x2="35.3" y2="223.50" stroke="#222" stroke-width="0.6"/>
<text x="31.0" y="224.90" font-size="8.5" text-anchor="end" fill="#222">500</text>
<line x1="35.30" y1="368.5" x2="35.30" y2="370.3" stroke="#222" stroke-width="0.6"/>
<text x="37.10" y="378.4" font-size="8.2" text-anchor="middle" fill="#222">0</text>
<line x1="65.13" y1="368.5" x2="65.13" y2="370.3" stroke="#222" stroke-width="0.6"/>
<text x="66.82" y="378.4" font-size="8.2" text-anchor="middle" fill="#222">5</text>
<line x1="94.96" y1="368.5" x2="94.96" y2="370.3" stroke="#222" stroke-width="0.6"/>
<text x="96.54" y="378.4" font-size="8.2" text-anchor="middle" fill="#222">10</text>
<line x1="124.79" y1="368.5" x2="124.79" y2="370.3" stroke="#222" stroke-width="0.6"/>
<text x="126.26" y="378.4" font-size="8.2" text-anchor="middle" fill="#222">15</text>
<line x1="154.62" y1="368.5" x2="154.62" y2="370.3" stroke="#222" stroke-width="0.6"/>
<text x="155.98" y="378.4" font-size="8.2" text-anchor="middle" fill="#222">20</text>
<line x1="184.45" y1="368.5" x2="184.45" y2="370.3" stroke="#222" stroke-width="0.6"/>
<text x="185.70" y="378.4" font-size="8.2" text-anchor="middle" fill="#222">25</text>
<line x1="214.28" y1="368.5" x2="214.28" y2="370.3" stroke="#222" stroke-width="0.6"/>
<text x="215.42" y="378.4" font-size="8.2" text-anchor="middle" fill="#222">30</text>
<text x="126.5" y="388.1" font-size="8.2" text-anchor="middle" fill="#222" xml:space="preserve">Time (s)</text>
<text transform="translate(10.5 295.8) rotate(-90)" font-size="8.2" text-anchor="middle" fill="#222">Frequency (Hz)</text>
<rect x="225.3" y="223.5" width="7.8" height="145.0" fill="url(#cb)" stroke="#333" stroke-width="0.4"/>
<line x1="233.1" y1="247.26" x2="235.6" y2="247.26" stroke="#222" stroke-width="0.6"/>
<text x="237.3" y="249.96" font-size="8.2" fill="#222">40</text>
<line x1="233.1" y1="275.26" x2="235.6" y2="275.26" stroke="#222" stroke-width="0.6"/>
<text x="237.3" y="277.96" font-size="8.2" fill="#222">20</text>
<line x1="233.1" y1="303.26" x2="235.6" y2="303.26" stroke="#222" stroke-width="0.6"/>
<text x="237.3" y="305.96" font-size="8.2" fill="#222">0</text>
<line x1="233.1" y1="331.26" x2="235.6" y2="331.26" stroke="#222" stroke-width="0.6"/>
<text x="237.3" y="333.96" font-size="8.2" fill="#222">−20</text>
<line x1="233.1" y1="359.26" x2="235.6" y2="359.26" stroke="#222" stroke-width="0.6"/>
<text x="237.3" y="361.96" font-size="8.2" fill="#222">−40</text>
<text transform="translate(263.6 299.0) rotate(-90)" font-size="7.8" text-anchor="middle" fill="#222">Power spectral density (dB/Hz)</text>
<text x="130.0" y="419.2" font-size="17.5" text-anchor="middle" fill="#111">(c)</text>
<rect x="164.0" y="276.4" width="42.4" height="26.8" fill="#fff" stroke="#111" stroke-width="0.9"/><text x="185.2" y="294.3" font-size="13.5" text-anchor="middle" fill="#111">Fs+Fr</text>
<line x1="183.0" y1="309.0" x2="173.9" y2="329.8" stroke="#f58233" stroke-width="2"/><polygon points="169.7,339.5 169.8,325.8 173.9,329.8 179.7,330.1" fill="#f58233"/>
<g transform="translate(315 223.5)" filter="url(#vd)">
<rect x="0" y="0" width="179" height="145" fill="url(#bias)"/>
<path d="M23.80 134.56 L59.50 118.90 L179.00 118.90" stroke="#820000" stroke-width="18.00" fill="none" stroke-opacity="1.00" stroke-linejoin="round" style="mix-blend-mode:lighten" filter="url(#b3)"/>
<path d="M4.00 132.13 L45.08 0.00" stroke="#640000" stroke-width="3.30" fill="none" stroke-opacity="1.00" stroke-linejoin="round" style="mix-blend-mode:lighten" filter="url(#b1)"/>
<path d="M4.00 132.13 L45.08 0.00" stroke="#7a0000" stroke-width="1.10" fill="none" stroke-opacity="1.00" stroke-linejoin="round" style="mix-blend-mode:lighten"/>
<path d="M26.00 61.36 L45.08 0.00" stroke="#6b0000" stroke-width="3.40" fill="none" stroke-opacity="1.00" stroke-linejoin="round" style="mix-blend-mode:lighten" filter="url(#b1)"/>
<path d="M26.00 61.36 L45.08 0.00" stroke="#820000" stroke-width="1.20" fill="none" stroke-opacity="1.00" stroke-linejoin="round" style="mix-blend-mode:lighten"/>
<path d="M0.00 145.00 L59.50 23.20" stroke="#870000" stroke-width="4.00" fill="none" stroke-opacity="1.00" stroke-linejoin="round" style="mix-blend-mode:lighten" filter="url(#b1)"/>
<path d="M0.00 145.00 L59.50 23.20" stroke="#9d0000" stroke-width="1.80" fill="none" stroke-opacity="1.00" stroke-linejoin="round" style="mix-blend-mode:lighten"/>
<path d="M59.00 23.20 L179.00 23.20" stroke="#930000" stroke-width="5.20" fill="none" stroke-opacity="1.00" stroke-linejoin="round" style="mix-blend-mode:lighten" filter="url(#b1)"/>
<path d="M59.00 23.20 L179.00 23.20" stroke="#a90000" stroke-width="2.60" fill="none" stroke-opacity="1.00" stroke-linejoin="round" style="mix-blend-mode:lighten"/>
<path d="M59.00 18.85 L179.00 18.85" stroke="#870000" stroke-width="4.60" fill="none" stroke-opacity="1.00" stroke-linejoin="round" style="mix-blend-mode:lighten" filter="url(#b1)"/>
<path d="M59.00 18.85 L179.00 18.85" stroke="#9d0000" stroke-width="2.00" fill="none" stroke-opacity="1.00" stroke-linejoin="round" style="mix-blend-mode:lighten"/>
<path d="M0.00 145.00 L59.50 58.00" stroke="#780000" stroke-width="3.90" fill="none" stroke-opacity="1.00" stroke-linejoin="round" style="mix-blend-mode:lighten" filter="url(#b1)"/>
<path d="M0.00 145.00 L59.50 58.00" stroke="#8e0000" stroke-width="1.70" fill="none" stroke-opacity="1.00" stroke-linejoin="round" style="mix-blend-mode:lighten"/>
<path d="M59.00 58.00 L179.00 58.00" stroke="#900000" stroke-width="5.20" fill="none" stroke-opacity="1.00" stroke-linejoin="round" style="mix-blend-mode:lighten" filter="url(#b1)"/>
<path d="M59.00 58.00 L179.00 58.00" stroke="#a70000" stroke-width="2.60" fill="none" stroke-opacity="1.00" stroke-linejoin="round" style="mix-blend-mode:lighten"/>
<path d="M40.00 83.59 L59.50 53.65" stroke="#700000" stroke-width="3.40" fill="none" stroke-opacity="1.00" stroke-linejoin="round" style="mix-blend-mode:lighten" filter="url(#b1)"/>
<path d="M40.00 83.59 L59.50 53.65" stroke="#870000" stroke-width="1.20" fill="none" stroke-opacity="1.00" stroke-linejoin="round" style="mix-blend-mode:lighten"/>
<path d="M59.00 53.65 L179.00 53.65" stroke="#7d0000" stroke-width="4.40" fill="none" stroke-opacity="1.00" stroke-linejoin="round" style="mix-blend-mode:lighten" filter="url(#b1)"/>
<path d="M59.00 53.65 L179.00 53.65" stroke="#930000" stroke-width="1.80" fill="none" stroke-opacity="1.00" stroke-linejoin="round" style="mix-blend-mode:lighten"/>
<path d="M14.00 132.72 L59.50 92.80" stroke="#750000" stroke-width="4.20" fill="none" stroke-opacity="1.00" stroke-linejoin="round" style="mix-blend-mode:lighten" filter="url(#b1)"/>
<path d="M14.00 132.72 L59.50 92.80" stroke="#8b0000" stroke-width="2.00" fill="none" stroke-opacity="1.00" stroke-linejoin="round" style="mix-blend-mode:lighten"/>
<path d="M59.00 92.80 L179.00 92.80" stroke="#8b0000" stroke-width="5.40" fill="none" stroke-opacity="1.00" stroke-linejoin="round" style="mix-blend-mode:lighten" filter="url(#b1)"/>
<path d="M59.00 92.80 L179.00 92.80" stroke="#a20000" stroke-width="2.80" fill="none" stroke-opacity="1.00" stroke-linejoin="round" style="mix-blend-mode:lighten"/>
<path d="M30.00 123.07 L59.50 101.50" stroke="#700000" stroke-width="3.70" fill="none" stroke-opacity="1.00" stroke-linejoin="round" style="mix-blend-mode:lighten" filter="url(#b1)"/>
<path d="M30.00 123.07 L59.50 101.50" stroke="#870000" stroke-width="1.50" fill="none" stroke-opacity="1.00" stroke-linejoin="round" style="mix-blend-mode:lighten"/>
<path d="M28.00 128.62 L59.50 110.20" stroke="#6e0000" stroke-width="3.60" fill="none" stroke-opacity="1.00" stroke-linejoin="round" style="mix-blend-mode:lighten" filter="url(#b1)"/>
<path d="M28.00 128.62 L59.50 110.20" stroke="#840000" stroke-width="1.40" fill="none" stroke-opacity="1.00" stroke-linejoin="round" style="mix-blend-mode:lighten"/>
<path d="M28.00 131.35 L59.50 116.00" stroke="#700000" stroke-width="3.60" fill="none" stroke-opacity="1.00" stroke-linejoin="round" style="mix-blend-mode:lighten" filter="url(#b1)"/>
<path d="M28.00 131.35 L59.50 116.00" stroke="#870000" stroke-width="1.40" fill="none" stroke-opacity="1.00" stroke-linejoin="round" style="mix-blend-mode:lighten"/>
<path d="M24.00 136.23 L59.50 123.25" stroke="#780000" stroke-width="3.40" fill="none" stroke-opacity="1.00" stroke-linejoin="round" style="mix-blend-mode:lighten" filter="url(#b1)"/>
<path d="M24.00 136.23 L59.50 123.25" stroke="#8e0000" stroke-width="1.20" fill="none" stroke-opacity="1.00" stroke-linejoin="round" style="mix-blend-mode:lighten"/>
<path d="M59.00 123.25 L179.00 123.25" stroke="#870000" stroke-width="4.40" fill="none" stroke-opacity="1.00" stroke-linejoin="round" style="mix-blend-mode:lighten" filter="url(#b1)"/>
<path d="M59.00 123.25 L179.00 123.25" stroke="#9d0000" stroke-width="1.80" fill="none" stroke-opacity="1.00" stroke-linejoin="round" style="mix-blend-mode:lighten"/>
<path d="M24.00 139.74 L59.50 131.95" stroke="#700000" stroke-width="3.40" fill="none" stroke-opacity="1.00" stroke-linejoin="round" style="mix-blend-mode:lighten" filter="url(#b1)"/>
<path d="M24.00 139.74 L59.50 131.95" stroke="#870000" stroke-width="1.20" fill="none" stroke-opacity="1.00" stroke-linejoin="round" style="mix-blend-mode:lighten"/>
<path d="M59.00 131.95 L179.00 131.95" stroke="#780000" stroke-width="3.90" fill="none" stroke-opacity="1.00" stroke-linejoin="round" style="mix-blend-mode:lighten" filter="url(#b1)"/>
<path d="M59.00 131.95 L179.00 131.95" stroke="#8e0000" stroke-width="1.30" fill="none" stroke-opacity="1.00" stroke-linejoin="round" style="mix-blend-mode:lighten"/>
<path d="M28.00 132.72 L59.50 118.90" stroke="#6e0000" stroke-width="3.40" fill="none" stroke-opacity="1.00" stroke-linejoin="round" style="mix-blend-mode:lighten" filter="url(#b1)"/>
<path d="M28.00 132.72 L59.50 118.90" stroke="#840000" stroke-width="1.20" fill="none" stroke-opacity="1.00" stroke-linejoin="round" style="mix-blend-mode:lighten"/>
<path d="M59.00 118.90 L179.00 118.90" stroke="#690000" stroke-width="3.90" fill="none" stroke-opacity="1.00" stroke-linejoin="round" style="mix-blend-mode:lighten" filter="url(#b1)"/>
<path d="M59.00 118.90 L179.00 118.90" stroke="#7f0000" stroke-width="1.30" fill="none" stroke-opacity="1.00" stroke-linejoin="round" style="mix-blend-mode:lighten"/>
<path d="M0.00 145.00 L59.50 127.60 L179.00 127.60" stroke="#ab0000" stroke-width="8.50" fill="none" stroke-opacity="1.00" stroke-linejoin="round" style="mix-blend-mode:lighten" filter="url(#b2)"/>
<path d="M0.00 145.00 L59.50 127.60 L179.00 127.60" stroke="#cc0000" stroke-width="4.00" fill="none" stroke-opacity="1.00" stroke-linejoin="round" style="mix-blend-mode:lighten" filter="url(#b1)"/>
<path d="M0.00 145.00 L59.50 127.60 L179.00 127.60" stroke="#ff0000" stroke-width="2.00" fill="none" stroke-opacity="1.00" stroke-linejoin="round" style="mix-blend-mode:lighten"/>
</g>
<rect x="315" y="223.5" width="179" height="145" fill="none" stroke="#1a3a4a" stroke-width="0.5"/>
<line x1="313.2" y1="368.50" x2="315.0" y2="368.50" stroke="#222" stroke-width="0.6"/>
<text x="307.2" y="369.90" font-size="8.5" text-anchor="end" fill="#222">0</text>
<line x1="313.2" y1="339.50" x2="315.0" y2="339.50" stroke="#222" stroke-width="0.6"/>
<text x="310.7" y="340.90" font-size="8.5" text-anchor="end" fill="#222">100</text>
<line x1="313.2" y1="310.50" x2="315.0" y2="310.50" stroke="#222" stroke-width="0.6"/>
<text x="310.7" y="311.90" font-size="8.5" text-anchor="end" fill="#222">200</text>
<line x1="313.2" y1="281.50" x2="315.0" y2="281.50" stroke="#222" stroke-width="0.6"/>
<text x="310.7" y="282.90" font-size="8.5" text-anchor="end" fill="#222">300</text>
<line x1="313.2" y1="252.50" x2="315.0" y2="252.50" stroke="#222" stroke-width="0.6"/>
<text x="310.7" y="253.90" font-size="8.5" text-anchor="end" fill="#222">400</text>
<line x1="313.2" y1="223.50" x2="315.0" y2="223.50" stroke="#222" stroke-width="0.6"/>
<text x="310.7" y="224.90" font-size="8.5" text-anchor="end" fill="#222">500</text>
<line x1="315.00" y1="368.5" x2="315.00" y2="370.3" stroke="#222" stroke-width="0.6"/>
<text x="316.80" y="378.4" font-size="8.2" text-anchor="middle" fill="#222">0</text>
<line x1="344.83" y1="368.5" x2="344.83" y2="370.3" stroke="#222" stroke-width="0.6"/>
<text x="346.52" y="378.4" font-size="8.2" text-anchor="middle" fill="#222">5</text>
<line x1="374.66" y1="368.5" x2="374.66" y2="370.3" stroke="#222" stroke-width="0.6"/>
<text x="376.24" y="378.4" font-size="8.2" text-anchor="middle" fill="#222">10</text>
<line x1="404.49" y1="368.5" x2="404.49" y2="370.3" stroke="#222" stroke-width="0.6"/>
<text x="405.96" y="378.4" font-size="8.2" text-anchor="middle" fill="#222">15</text>
<line x1="434.32" y1="368.5" x2="434.32" y2="370.3" stroke="#222" stroke-width="0.6"/>
<text x="435.68" y="378.4" font-size="8.2" text-anchor="middle" fill="#222">20</text>
<line x1="464.15" y1="368.5" x2="464.15" y2="370.3" stroke="#222" stroke-width="0.6"/>
<text x="465.40" y="378.4" font-size="8.2" text-anchor="middle" fill="#222">25</text>
<line x1="493.98" y1="368.5" x2="493.98" y2="370.3" stroke="#222" stroke-width="0.6"/>
<text x="495.12" y="378.4" font-size="8.2" text-anchor="middle" fill="#222">30</text>
<text x="406.2" y="388.1" font-size="8.2" text-anchor="middle" fill="#222" xml:space="preserve">Time  (s)</text>
<text transform="translate(290.2 295.8) rotate(-90)" font-size="8.2" text-anchor="middle" fill="#222">Frequency (Hz)</text>
<rect x="505.0" y="223.5" width="7.8" height="145.0" fill="url(#cb)" stroke="#333" stroke-width="0.4"/>
<line x1="512.8" y1="247.26" x2="515.3" y2="247.26" stroke="#222" stroke-width="0.6"/>
<text x="517.0" y="249.96" font-size="8.2" fill="#222">40</text>
<line x1="512.8" y1="275.26" x2="515.3" y2="275.26" stroke="#222" stroke-width="0.6"/>
<text x="517.0" y="277.96" font-size="8.2" fill="#222">20</text>
<line x1="512.8" y1="303.26" x2="515.3" y2="303.26" stroke="#222" stroke-width="0.6"/>
<text x="517.0" y="305.96" font-size="8.2" fill="#222">0</text>
<line x1="512.8" y1="331.26" x2="515.3" y2="331.26" stroke="#222" stroke-width="0.6"/>
<text x="517.0" y="333.96" font-size="8.2" fill="#222">−20</text>
<line x1="512.8" y1="359.26" x2="515.3" y2="359.26" stroke="#222" stroke-width="0.6"/>
<text x="517.0" y="361.96" font-size="8.2" fill="#222">−40</text>
<text transform="translate(543.3 299.0) rotate(-90)" font-size="7.8" text-anchor="middle" fill="#222">Power spectral density (dB/Hz)</text>
<text x="409.7" y="419.2" font-size="17.5" text-anchor="middle" fill="#111">(d)</text>
<rect x="420.4" y="276.4" width="42.4" height="26.8" fill="#fff" stroke="#111" stroke-width="0.9"/><text x="441.6" y="294.3" font-size="13.5" text-anchor="middle" fill="#111">Fs+Fr</text>
<line x1="439.3" y1="308.7" x2="430.3" y2="330.2" stroke="#f58233" stroke-width="2"/><polygon points="426.2,340.0 426.1,326.3 430.3,330.2 436.0,330.5" fill="#f58233"/>
<g transform="translate(174.9 437.3)" filter="url(#ve)">
<rect x="0" y="0" width="179" height="145" fill="url(#bias)"/>
<path d="M23.80 134.56 L59.50 118.90 L179.00 118.90" stroke="#7f0000" stroke-width="20.00" fill="none" stroke-opacity="1.00" stroke-linejoin="round" style="mix-blend-mode:lighten" filter="url(#b3)"/>
<path d="M4.00 132.13 L45.08 0.00" stroke="#5a0000" stroke-width="3.30" fill="none" stroke-opacity="1.00" stroke-linejoin="round" style="mix-blend-mode:lighten" filter="url(#b1)"/>
<path d="M4.00 132.13 L45.08 0.00" stroke="#700000" stroke-width="1.10" fill="none" stroke-opacity="1.00" stroke-linejoin="round" style="mix-blend-mode:lighten"/>
<path d="M26.00 61.36 L45.08 0.00" stroke="#620000" stroke-width="3.40" fill="none" stroke-opacity="1.00" stroke-linejoin="round" style="mix-blend-mode:lighten" filter="url(#b1)"/>
<path d="M26.00 61.36 L45.08 0.00" stroke="#780000" stroke-width="1.20" fill="none" stroke-opacity="1.00" stroke-linejoin="round" style="mix-blend-mode:lighten"/>
<path d="M0.00 145.00 L59.50 23.20" stroke="#7a0000" stroke-width="5.00" fill="none" stroke-opacity="1.00" stroke-linejoin="round" style="mix-blend-mode:lighten" filter="url(#b1)"/>
<path d="M0.00 145.00 L59.50 23.20" stroke="#900000" stroke-width="2.80" fill="none" stroke-opacity="1.00" stroke-linejoin="round" style="mix-blend-mode:lighten"/>
<path d="M59.00 23.20 L179.00 23.20" stroke="#8e0000" stroke-width="4.60" fill="none" stroke-opacity="1.00" stroke-linejoin="round" style="mix-blend-mode:lighten" filter="url(#b1)"/>
<path d="M59.00 23.20 L179.00 23.20" stroke="#a40000" stroke-width="2.00" fill="none" stroke-opacity="1.00" stroke-linejoin="round" style="mix-blend-mode:lighten"/>
<path d="M25.00 91.02 L59.50 16.53" stroke="#640000" stroke-width="3.40" fill="none" stroke-opacity="1.00" stroke-linejoin="round" style="mix-blend-mode:lighten" filter="url(#b1)"/>
<path d="M25.00 91.02 L59.50 16.53" stroke="#7a0000" stroke-width="1.20" fill="none" stroke-opacity="1.00" stroke-linejoin="round" style="mix-blend-mode:lighten"/>
<path d="M59.00 16.53 L179.00 16.53" stroke="#7d0000" stroke-width="4.10" fill="none" stroke-opacity="1.00" stroke-linejoin="round" style="mix-blend-mode:lighten" filter="url(#b1)"/>
<path d="M59.00 16.53 L179.00 16.53" stroke="#930000" stroke-width="1.50" fill="none" stroke-opacity="1.00" stroke-linejoin="round" style="mix-blend-mode:lighten"/>
<path d="M25.00 95.04 L59.50 26.10" stroke="#660000" stroke-width="3.40" fill="none" stroke-opacity="1.00" stroke-linejoin="round" style="mix-blend-mode:lighten" filter="url(#b1)"/>
<path d="M25.00 95.04 L59.50 26.10" stroke="#7d0000" stroke-width="1.20" fill="none" stroke-opacity="1.00" stroke-linejoin="round" style="mix-blend-mode:lighten"/>
<path d="M59.00 26.10 L179.00 26.10" stroke="#7a0000" stroke-width="4.00" fill="none" stroke-opacity="1.00" stroke-linejoin="round" style="mix-blend-mode:lighten" filter="url(#b1)"/>
<path d="M59.00 26.10 L179.00 26.10" stroke="#900000" stroke-width="1.40" fill="none" stroke-opacity="1.00" stroke-linejoin="round" style="mix-blend-mode:lighten"/>
<path d="M25.00 96.50 L59.50 29.58" stroke="#640000" stroke-width="3.40" fill="none" stroke-opacity="1.00" stroke-linejoin="round" style="mix-blend-mode:lighten" filter="url(#b1)"/>
<path d="M25.00 96.50 L59.50 29.58" stroke="#7a0000" stroke-width="1.20" fill="none" stroke-opacity="1.00" stroke-linejoin="round" style="mix-blend-mode:lighten"/>
<path d="M59.00 29.58 L179.00 29.58" stroke="#780000" stroke-width="4.00" fill="none" stroke-opacity="1.00" stroke-linejoin="round" style="mix-blend-mode:lighten" filter="url(#b1)"/>
<path d="M59.00 29.58 L179.00 29.58" stroke="#8e0000" stroke-width="1.40" fill="none" stroke-opacity="1.00" stroke-linejoin="round" style="mix-blend-mode:lighten"/>
<path d="M59.00 19.72 L179.00 19.72" stroke="#6b0000" stroke-width="3.60" fill="none" stroke-opacity="1.00" stroke-linejoin="round" style="mix-blend-mode:lighten" filter="url(#b1)"/>
<path d="M59.00 19.72 L179.00 19.72" stroke="#820000" stroke-width="1.00" fill="none" stroke-opacity="1.00" stroke-linejoin="round" style="mix-blend-mode:lighten"/>
<path d="M0.00 145.00 L59.50 58.00" stroke="#730000" stroke-width="4.60" fill="none" stroke-opacity="1.00" stroke-linejoin="round" style="mix-blend-mode:lighten" filter="url(#b1)"/>
<path d="M0.00 145.00 L59.50 58.00" stroke="#890000" stroke-width="2.40" fill="none" stroke-opacity="1.00" stroke-linejoin="round" style="mix-blend-mode:lighten"/>
<path d="M59.00 58.00 L179.00 58.00" stroke="#890000" stroke-width="4.60" fill="none" stroke-opacity="1.00" stroke-linejoin="round" style="mix-blend-mode:lighten" filter="url(#b1)"/>
<path d="M59.00 58.00 L179.00 58.00" stroke="#9f0000" stroke-width="2.00" fill="none" stroke-opacity="1.00" stroke-linejoin="round" style="mix-blend-mode:lighten"/>
<path d="M25.00 105.52 L59.50 51.04" stroke="#620000" stroke-width="3.40" fill="none" stroke-opacity="1.00" stroke-linejoin="round" style="mix-blend-mode:lighten" filter="url(#b1)"/>
<path d="M25.00 105.52 L59.50 51.04" stroke="#780000" stroke-width="1.20" fill="none" stroke-opacity="1.00" stroke-linejoin="round" style="mix-blend-mode:lighten"/>
<path d="M59.00 51.04 L179.00 51.04" stroke="#780000" stroke-width="4.00" fill="none" stroke-opacity="1.00" stroke-linejoin="round" style="mix-blend-mode:lighten" filter="url(#b1)"/>
<path d="M59.00 51.04 L179.00 51.04" stroke="#8e0000" stroke-width="1.40" fill="none" stroke-opacity="1.00" stroke-linejoin="round" style="mix-blend-mode:lighten"/>
<path d="M25.00 106.86 L59.50 54.23" stroke="#640000" stroke-width="3.40" fill="none" stroke-opacity="1.00" stroke-linejoin="round" style="mix-blend-mode:lighten" filter="url(#b1)"/>
<path d="M25.00 106.86 L59.50 54.23" stroke="#7a0000" stroke-width="1.20" fill="none" stroke-opacity="1.00" stroke-linejoin="round" style="mix-blend-mode:lighten"/>
<path d="M59.00 54.23 L179.00 54.23" stroke="#7a0000" stroke-width="4.00" fill="none" stroke-opacity="1.00" stroke-linejoin="round" style="mix-blend-mode:lighten" filter="url(#b1)"/>
<path d="M59.00 54.23 L179.00 54.23" stroke="#900000" stroke-width="1.40" fill="none" stroke-opacity="1.00" stroke-linejoin="round" style="mix-blend-mode:lighten"/>
<path d="M25.00 109.91 L59.50 61.48" stroke="#620000" stroke-width="3.40" fill="none" stroke-opacity="1.00" stroke-linejoin="round" style="mix-blend-mode:lighten" filter="url(#b1)"/>
<path d="M25.00 109.91 L59.50 61.48" stroke="#780000" stroke-width="1.20" fill="none" stroke-opacity="1.00" stroke-linejoin="round" style="mix-blend-mode:lighten"/>
<path d="M59.00 61.48 L179.00 61.48" stroke="#750000" stroke-width="3.90" fill="none" stroke-opacity="1.00" stroke-linejoin="round" style="mix-blend-mode:lighten" filter="url(#b1)"/>
<path d="M59.00 61.48 L179.00 61.48" stroke="#8b0000" stroke-width="1.30" fill="none" stroke-opacity="1.00" stroke-linejoin="round" style="mix-blend-mode:lighten"/>
<path d="M59.00 64.96 L179.00 64.96" stroke="#690000" stroke-width="3.60" fill="none" stroke-opacity="1.00" stroke-linejoin="round" style="mix-blend-mode:lighten" filter="url(#b1)"/>
<path d="M59.00 64.96 L179.00 64.96" stroke="#7f0000" stroke-width="1.00" fill="none" stroke-opacity="1.00" stroke-linejoin="round" style="mix-blend-mode:lighten"/>
<path d="M10.00 136.23 L59.50 92.80" stroke="#6e0000" stroke-width="4.40" fill="none" stroke-opacity="1.00" stroke-linejoin="round" style="mix-blend-mode:lighten" filter="url(#b1)"/>
<path d="M10.00 136.23 L59.50 92.80" stroke="#840000" stroke-width="2.20" fill="none" stroke-opacity="1.00" stroke-linejoin="round" style="mix-blend-mode:lighten"/>
<path d="M59.00 92.80 L179.00 92.80" stroke="#780000" stroke-width="4.60" fill="none" stroke-opacity="1.00" stroke-linejoin="round" style="mix-blend-mode:lighten" filter="url(#b1)"/>
<path d="M59.00 92.80 L179.00 92.80" stroke="#8e0000" stroke-width="2.00" fill="none" stroke-opacity="1.00" stroke-linejoin="round" style="mix-blend-mode:lighten"/>
<path d="M25.00 121.61 L59.50 89.32" stroke="#640000" stroke-width="3.40" fill="none" stroke-opacity="1.00" stroke-linejoin="round" style="mix-blend-mode:lighten" filter="url(#b1)"/>
<path d="M25.00 121.61 L59.50 89.32" stroke="#7a0000" stroke-width="1.20" fill="none" stroke-opacity="1.00" stroke-linejoin="round" style="mix-blend-mode:lighten"/>
<path d="M59.00 89.32 L179.00 89.32" stroke="#6e0000" stroke-width="3.90" fill="none" stroke-opacity="1.00" stroke-linejoin="round" style="mix-blend-mode:lighten" filter="url(#b1)"/>
<path d="M59.00 89.32 L179.00 89.32" stroke="#840000" stroke-width="1.30" fill="none" stroke-opacity="1.00" stroke-linejoin="round" style="mix-blend-mode:lighten"/>
<path d="M25.00 124.53 L59.50 96.28" stroke="#640000" stroke-width="3.40" fill="none" stroke-opacity="1.00" stroke-linejoin="round" style="mix-blend-mode:lighten" filter="url(#b1)"/>
<path d="M25.00 124.53 L59.50 96.28" stroke="#7a0000" stroke-width="1.20" fill="none" stroke-opacity="1.00" stroke-linejoin="round" style="mix-blend-mode:lighten"/>
<path d="M59.00 96.28 L179.00 96.28" stroke="#6e0000" stroke-width="3.90" fill="none" stroke-opacity="1.00" stroke-linejoin="round" style="mix-blend-mode:lighten" filter="url(#b1)"/>
<path d="M59.00 96.28 L179.00 96.28" stroke="#840000" stroke-width="1.30" fill="none" stroke-opacity="1.00" stroke-linejoin="round" style="mix-blend-mode:lighten"/>
<path d="M12.00 130.96 L59.50 75.40" stroke="#690000" stroke-width="3.40" fill="none" stroke-opacity="1.00" stroke-linejoin="round" style="mix-blend-mode:lighten" filter="url(#b1)"/>
<path d="M12.00 130.96 L59.50 75.40" stroke="#7f0000" stroke-width="1.20" fill="none" stroke-opacity="1.00" stroke-linejoin="round" style="mix-blend-mode:lighten"/>
<path d="M12.00 137.98 L59.50 110.20" stroke="#6b0000" stroke-width="3.60" fill="none" stroke-opacity="1.00" stroke-linejoin="round" style="mix-blend-mode:lighten" filter="url(#b1)"/>
<path d="M12.00 137.98 L59.50 110.20" stroke="#820000" stroke-width="1.40" fill="none" stroke-opacity="1.00" stroke-linejoin="round" style="mix-blend-mode:lighten"/>
<path d="M12.00 140.09 L59.50 120.64" stroke="#730000" stroke-width="3.40" fill="none" stroke-opacity="1.00" stroke-linejoin="round" style="mix-blend-mode:lighten" filter="url(#b1)"/>
<path d="M12.00 140.09 L59.50 120.64" stroke="#890000" stroke-width="1.20" fill="none" stroke-opacity="1.00" stroke-linejoin="round" style="mix-blend-mode:lighten"/>
<path d="M59.00 120.64 L179.00 120.64" stroke="#7f0000" stroke-width="4.10" fill="none" stroke-opacity="1.00" stroke-linejoin="round" style="mix-blend-mode:lighten" filter="url(#b1)"/>
<path d="M59.00 120.64 L179.00 120.64" stroke="#950000" stroke-width="1.50" fill="none" stroke-opacity="1.00" stroke-linejoin="round" style="mix-blend-mode:lighten"/>
<path d="M12.00 140.79 L59.50 124.12" stroke="#820000" stroke-width="3.40" fill="none" stroke-opacity="1.00" stroke-linejoin="round" style="mix-blend-mode:lighten" filter="url(#b1)"/>
<path d="M12.00 140.79 L59.50 124.12" stroke="#980000" stroke-width="1.20" fill="none" stroke-opacity="1.00" stroke-linejoin="round" style="mix-blend-mode:lighten"/>
<path d="M59.00 124.12 L179.00 124.12" stroke="#9a0000" stroke-width="4.40" fill="none" stroke-opacity="1.00" stroke-linejoin="round" style="mix-blend-mode:lighten" filter="url(#b1)"/>
<path d="M59.00 124.12 L179.00 124.12" stroke="#b00000" stroke-width="1.80" fill="none" stroke-opacity="1.00" stroke-linejoin="round" style="mix-blend-mode:lighten"/>
<path d="M12.00 142.19 L59.50 131.08" stroke="#820000" stroke-width="3.40" fill="none" stroke-opacity="1.00" stroke-linejoin="round" style="mix-blend-mode:lighten" filter="url(#b1)"/>
<path d="M12.00 142.19 L59.50 131.08" stroke="#980000" stroke-width="1.20" fill="none" stroke-opacity="1.00" stroke-linejoin="round" style="mix-blend-mode:lighten"/>
<path d="M59.00 131.08 L179.00 131.08" stroke="#980000" stroke-width="4.30" fill="none" stroke-opacity="1.00" stroke-linejoin="round" style="mix-blend-mode:lighten" filter="url(#b1)"/>
<path d="M59.00 131.08 L179.00 131.08" stroke="#ae0000" stroke-width="1.70" fill="none" stroke-opacity="1.00" stroke-linejoin="round" style="mix-blend-mode:lighten"/>
<path d="M12.00 142.89 L59.50 134.56" stroke="#700000" stroke-width="3.40" fill="none" stroke-opacity="1.00" stroke-linejoin="round" style="mix-blend-mode:lighten" filter="url(#b1)"/>
<path d="M12.00 142.89 L59.50 134.56" stroke="#870000" stroke-width="1.20" fill="none" stroke-opacity="1.00" stroke-linejoin="round" style="mix-blend-mode:lighten"/>
<path d="M59.00 134.56 L179.00 134.56" stroke="#7d0000" stroke-width="4.00" fill="none" stroke-opacity="1.00" stroke-linejoin="round" style="mix-blend-mode:lighten" filter="url(#b1)"/>
<path d="M59.00 134.56 L179.00 134.56" stroke="#930000" stroke-width="1.40" fill="none" stroke-opacity="1.00" stroke-linejoin="round" style="mix-blend-mode:lighten"/>
<path d="M16.00 137.51 L59.50 117.16" stroke="#6b0000" stroke-width="3.40" fill="none" stroke-opacity="1.00" stroke-linejoin="round" style="mix-blend-mode:lighten" filter="url(#b1)"/>
<path d="M16.00 137.51 L59.50 117.16" stroke="#820000" stroke-width="1.20" fill="none" stroke-opacity="1.00" stroke-linejoin="round" style="mix-blend-mode:lighten"/>
<path d="M59.00 117.16 L179.00 117.16" stroke="#730000" stroke-width="3.90" fill="none" stroke-opacity="1.00" stroke-linejoin="round" style="mix-blend-mode:lighten" filter="url(#b1)"/>
<path d="M59.00 117.16 L179.00 117.16" stroke="#890000" stroke-width="1.30" fill="none" stroke-opacity="1.00" stroke-linejoin="round" style="mix-blend-mode:lighten"/>
<path d="M0.00 145.00 L59.50 127.60 L179.00 127.60" stroke="#b80000" stroke-width="13.00" fill="none" stroke-opacity="1.00" stroke-linejoin="round" style="mix-blend-mode:lighten" filter="url(#b2)"/>
<path d="M0.00 145.00 L59.50 127.60 L179.00 127.60" stroke="#cc0000" stroke-width="4.00" fill="none" stroke-opacity="1.00" stroke-linejoin="round" style="mix-blend-mode:lighten" filter="url(#b1)"/>
<path d="M0.00 145.00 L59.50 127.60 L179.00 127.60" stroke="#ff0000" stroke-width="2.00" fill="none" stroke-opacity="1.00" stroke-linejoin="round" style="mix-blend-mode:lighten"/>
</g>
<rect x="174.9" y="437.3" width="179" height="145" fill="none" stroke="#1a3a4a" stroke-width="0.5"/>
<line x1="173.1" y1="582.30" x2="174.9" y2="582.30" stroke="#222" stroke-width="0.6"/>
<text x="167.1" y="583.70" font-size="8.5" text-anchor="end" fill="#222">0</text>
<line x1="173.1" y1="553.30" x2="174.9" y2="553.30" stroke="#222" stroke-width="0.6"/>
<text x="170.6" y="554.70" font-size="8.5" text-anchor="end" fill="#222">100</text>
<line x1="173.1" y1="524.30" x2="174.9" y2="524.30" stroke="#222" stroke-width="0.6"/>
<text x="170.6" y="525.70" font-size="8.5" text-anchor="end" fill="#222">200</text>
<line x1="173.1" y1="495.30" x2="174.9" y2="495.30" stroke="#222" stroke-width="0.6"/>
<text x="170.6" y="496.70" font-size="8.5" text-anchor="end" fill="#222">300</text>
<line x1="173.1" y1="466.30" x2="174.9" y2="466.30" stroke="#222" stroke-width="0.6"/>
<text x="170.6" y="467.70" font-size="8.5" text-anchor="end" fill="#222">400</text>
<line x1="173.1" y1="437.30" x2="174.9" y2="437.30" stroke="#222" stroke-width="0.6"/>
<text x="170.6" y="438.70" font-size="8.5" text-anchor="end" fill="#222">500</text>
<line x1="174.90" y1="582.3" x2="174.90" y2="584.1" stroke="#222" stroke-width="0.6"/>
<text x="176.70" y="592.2" font-size="8.2" text-anchor="middle" fill="#222">0</text>
<line x1="204.73" y1="582.3" x2="204.73" y2="584.1" stroke="#222" stroke-width="0.6"/>
<text x="206.42" y="592.2" font-size="8.2" text-anchor="middle" fill="#222">5</text>
<line x1="234.56" y1="582.3" x2="234.56" y2="584.1" stroke="#222" stroke-width="0.6"/>
<text x="236.14" y="592.2" font-size="8.2" text-anchor="middle" fill="#222">10</text>
<line x1="264.39" y1="582.3" x2="264.39" y2="584.1" stroke="#222" stroke-width="0.6"/>
<text x="265.86" y="592.2" font-size="8.2" text-anchor="middle" fill="#222">15</text>
<line x1="294.22" y1="582.3" x2="294.22" y2="584.1" stroke="#222" stroke-width="0.6"/>
<text x="295.58" y="592.2" font-size="8.2" text-anchor="middle" fill="#222">20</text>
<line x1="324.05" y1="582.3" x2="324.05" y2="584.1" stroke="#222" stroke-width="0.6"/>
<text x="325.30" y="592.2" font-size="8.2" text-anchor="middle" fill="#222">25</text>
<line x1="353.88" y1="582.3" x2="353.88" y2="584.1" stroke="#222" stroke-width="0.6"/>
<text x="355.02" y="592.2" font-size="8.2" text-anchor="middle" fill="#222">30</text>
<text x="266.1" y="601.9" font-size="8.2" text-anchor="middle" fill="#222" xml:space="preserve">Time (s)</text>
<text transform="translate(150.1 509.6) rotate(-90)" font-size="8.2" text-anchor="middle" fill="#222">Frequency (Hz)</text>
<rect x="364.9" y="437.3" width="7.8" height="145.0" fill="url(#cb)" stroke="#333" stroke-width="0.4"/>
<line x1="372.7" y1="461.06" x2="375.2" y2="461.06" stroke="#222" stroke-width="0.6"/>
<text x="376.9" y="463.76" font-size="8.2" fill="#222">40</text>
<line x1="372.7" y1="489.06" x2="375.2" y2="489.06" stroke="#222" stroke-width="0.6"/>
<text x="376.9" y="491.76" font-size="8.2" fill="#222">20</text>
<line x1="372.7" y1="517.06" x2="375.2" y2="517.06" stroke="#222" stroke-width="0.6"/>
<text x="376.9" y="519.76" font-size="8.2" fill="#222">0</text>
<line x1="372.7" y1="545.06" x2="375.2" y2="545.06" stroke="#222" stroke-width="0.6"/>
<text x="376.9" y="547.76" font-size="8.2" fill="#222">−20</text>
<line x1="372.7" y1="573.06" x2="375.2" y2="573.06" stroke="#222" stroke-width="0.6"/>
<text x="376.9" y="575.76" font-size="8.2" fill="#222">−40</text>
<text transform="translate(403.2 512.8) rotate(-90)" font-size="7.8" text-anchor="middle" fill="#222">Power spectral density (dB/Hz)</text>
<text x="269.6" y="633.0" font-size="17.5" text-anchor="middle" fill="#111">(e)</text>
<rect x="232.7" y="491.5" width="42.5" height="26.7" fill="#fff" stroke="#111" stroke-width="0.9"/><text x="253.9" y="509.3" font-size="13.5" text-anchor="middle" fill="#111">Fs+2Fr</text>
<line x1="251.8" y1="524.5" x2="242.6" y2="544.9" stroke="#f58233" stroke-width="2"/><polygon points="238.3,554.6 238.5,540.9 242.6,544.9 248.4,545.3" fill="#f58233"/>
<rect x="305.8" y="499.1" width="41.4" height="26.7" fill="#fff" stroke="#111" stroke-width="0.9"/><text x="326.5" y="516.9" font-size="13.5" text-anchor="middle" fill="#111">Fs+2Fr</text>
<line x1="324.3" y1="531.7" x2="315.7" y2="552.4" stroke="#f58233" stroke-width="2"/><polygon points="311.6,562.2 311.5,548.5 315.7,552.4 321.4,552.6" fill="#f58233"/>
</svg></body></html>
